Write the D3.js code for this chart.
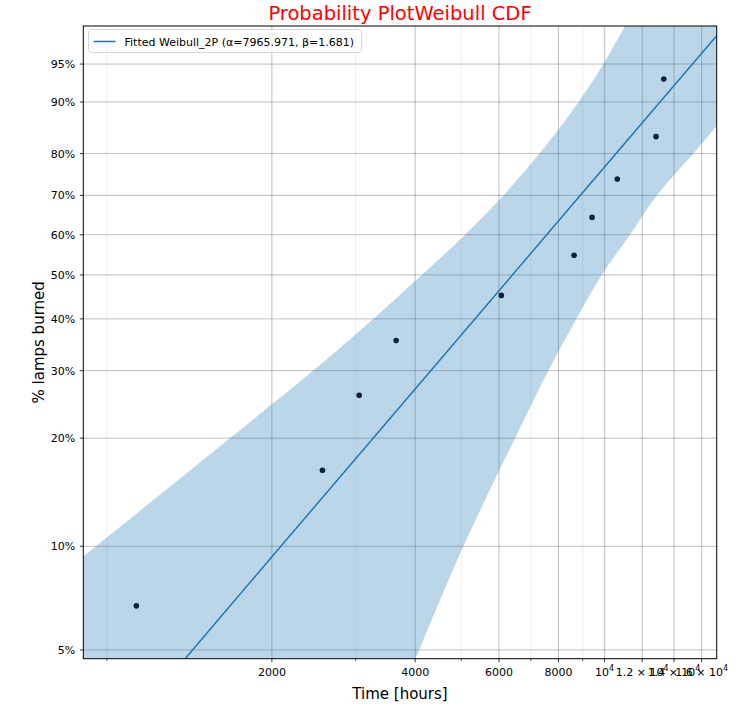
<!DOCTYPE html>
<html><head><meta charset="utf-8">
<script src="https://cdn.jsdelivr.net/npm/d3@7"></script>
<style>
body{margin:0;background:#fff}
svg{display:block}
text{font-family:"DejaVu Sans",sans-serif;fill:#000}
</style>
</head><body>
<svg id="chart" width="736" height="707"></svg>
<script>
// ---- data ----
const failureTimes = [1038, 2554, 3051, 3649, 6070, 8630, 9416, 10638, 12830, 13318];
const medianRanks  = [0.0673, 0.1635, 0.2596, 0.3558, 0.4519, 0.5481, 0.6442, 0.7404, 0.8365, 0.9327];

const fitTimes = [1317, 2000, 4000, 8000, 16000, 17208];
const fitCDF   = [0.0473, 0.0933, 0.2696, 0.6348, 0.9604, 0.9740];

const bandCDF      = [0.0471, 0.1, 0.2, 0.3, 0.4, 0.5, 0.6, 0.7, 0.8, 0.9, 0.95, 0.9798];
const bandLowTime  = [437, 854, 1632, 2442, 3264, 4128, 5094, 6130, 7300, 8820, 9944, 11044];
const bandHighTime = [4012, 5052, 6487, 7622, 8724, 9866, 11312, 12876, 15370, 18940, 22130, 25760];

const yTicks      = [0.05, 0.1, 0.2, 0.3, 0.4, 0.5, 0.6, 0.7, 0.8, 0.9, 0.95];
const yTickLabels = ["5%", "10%", "20%", "30%", "40%", "50%", "60%", "70%", "80%", "90%", "95%"];
const xMajorTicks = [2000, 4000, 6000, 8000, 10000, 12000, 14000, 16000];
const xTickLabels = ["2000", "4000", "6000", "8000", "10^4", "1.2 × 10^4", "1.4 × 10^4", "1.6 × 10^4"];
const xMinorTicks = [900, 3000, 5000, 7000, 9000];

const xDomain = [803, 17208];
const yDomain = [0.04713, 0.9798];

const titleText  = "Probability PlotWeibull CDF";
const xLabelText = "Time [hours]";
const yLabelText = "% lamps burned";
const legendText = "Fitted Weibull_2P (α=7965.971, β=1.681)";

// ---- layout ----
const L = 83.3, R = 716.7, T = 26, B = 658.7;
const blue = "#1f77b4";

const svg = d3.select("#chart");
const wb = F => Math.log(-Math.log(1 - F));
const x = d3.scaleLog().domain(xDomain).range([L, R]);
const yLin = d3.scaleLinear().domain(yDomain.map(wb)).range([B, T]);
const y = F => yLin(wb(F));

svg.append("defs").append("clipPath").attr("id", "plotclip")
  .append("rect").attr("x", L).attr("y", T).attr("width", R - L).attr("height", B - T);

const grid = svg.append("g");
// minor vertical grid
grid.selectAll(".vmin").data(xMinorTicks).join("line")
  .attr("x1", d => x(d)).attr("x2", d => x(d)).attr("y1", T).attr("y2", B)
  .attr("stroke", "#000").attr("stroke-opacity", 0.09).attr("stroke-width", 0.8);
// major vertical grid
grid.selectAll(".vmaj").data(xMajorTicks).join("line")
  .attr("x1", d => x(d)).attr("x2", d => x(d)).attr("y1", T).attr("y2", B)
  .attr("stroke", "#000")
  .attr("stroke-opacity", d => d === 10000 ? 0.2 : 0.32)
  .attr("stroke-width", d => d === 10000 ? 1.4 : 0.8);
// horizontal grid
grid.selectAll(".h").data(yTicks).join("line")
  .attr("x1", L).attr("x2", R).attr("y1", d => y(d)).attr("y2", d => y(d))
  .attr("stroke", "#000")
  .attr("stroke-opacity", d => d <= 0.1 ? 0.2 : 0.32)
  .attr("stroke-width", d => d <= 0.1 ? 1.3 : 0.8);

const plot = svg.append("g").attr("clip-path", "url(#plotclip)");

// data points (under the band)
const pts = failureTimes.map((t, i) => ({t, F: medianRanks[i]}));
plot.selectAll("circle").data(pts).join("circle")
  .attr("cx", d => x(d.t)).attr("cy", d => y(d.F)).attr("r", 2.8)
  .attr("fill", "#000");

// confidence band
const band = bandCDF.map((F, i) => ({F, lo: bandLowTime[i], hi: bandHighTime[i]}));
const area = d3.area().curve(d3.curveCatmullRom)
  .y(d => y(d.F)).x0(d => x(d.lo)).x1(d => x(d.hi));
plot.append("path").attr("d", area(band))
  .attr("fill", blue).attr("fill-opacity", 0.3);

// fitted line
const fit = fitTimes.map((t, i) => ({t, F: fitCDF[i]}));
plot.append("path")
  .attr("d", d3.line().x(d => x(d.t)).y(d => y(d.F))(fit))
  .attr("fill", "none").attr("stroke", blue).attr("stroke-width", 1.5);

// axes frame
svg.append("rect").attr("x", L).attr("y", T).attr("width", R - L).attr("height", B - T)
  .attr("fill", "none").attr("stroke", "#000").attr("stroke-width", 1);

// y ticks
const yt = svg.append("g");
yTicks.forEach((F, i) => {
  yt.append("line").attr("x1", L - 3.5).attr("x2", L).attr("y1", y(F)).attr("y2", y(F))
    .attr("stroke", "#000").attr("stroke-width", 0.8);
  yt.append("text").attr("x", L - 8).attr("y", y(F)).attr("dy", "0.36em")
    .attr("text-anchor", "end").attr("font-size", 11).text(yTickLabels[i]);
});

// x ticks
const xt = svg.append("g");
xMinorTicks.forEach(t => {
  xt.append("line").attr("x1", x(t)).attr("x2", x(t)).attr("y1", B).attr("y2", B + 2.5)
    .attr("stroke", "#000").attr("stroke-width", 0.6);
});
xMajorTicks.forEach((t, i) => {
  xt.append("line").attr("x1", x(t)).attr("x2", x(t)).attr("y1", B).attr("y2", B + 3.5)
    .attr("stroke", "#000").attr("stroke-width", 0.8);
  const lab = xTickLabels[i];
  const txt = xt.append("text").attr("x", x(t)).attr("y", 675.5)
    .attr("text-anchor", "middle").attr("font-size", 11);
  if (lab.includes("^")) {
    const [base, exp] = lab.split("^");
    txt.append("tspan").text(base);
    txt.append("tspan").attr("dy", -4.5).attr("font-size", 8).text(exp);
  } else {
    txt.text(lab);
  }
});

// axis labels & title
svg.append("text").attr("x", (L + R) / 2).attr("y", 698.5).attr("text-anchor", "middle")
  .attr("font-size", 15).text(xLabelText);
svg.append("text").attr("transform", `translate(43.5,${(T + B) / 2}) rotate(-90)`)
  .attr("text-anchor", "middle").attr("font-size", 15).text(yLabelText);
svg.append("text").attr("x", (L + R) / 2).attr("y", 20).attr("text-anchor", "middle")
  .attr("font-size", 19.5).style("fill", "#ff0000").text(titleText);

// legend
const lg = svg.append("g");
lg.append("rect").attr("x", 88.5).attr("y", 29.5).attr("width", 273).attr("height", 23)
  .attr("rx", 3).attr("fill", "#fff").attr("fill-opacity", 0.8)
  .attr("stroke", "#ccc").attr("stroke-width", 0.8);
lg.append("line").attr("x1", 93.5).attr("x2", 115.5).attr("y1", 41.5).attr("y2", 41.5)
  .attr("stroke", blue).attr("stroke-width", 1.5);
lg.append("text").attr("x", 124.5).attr("y", 45.5).attr("font-size", 11).text(legendText);
</script>
</body></html>
